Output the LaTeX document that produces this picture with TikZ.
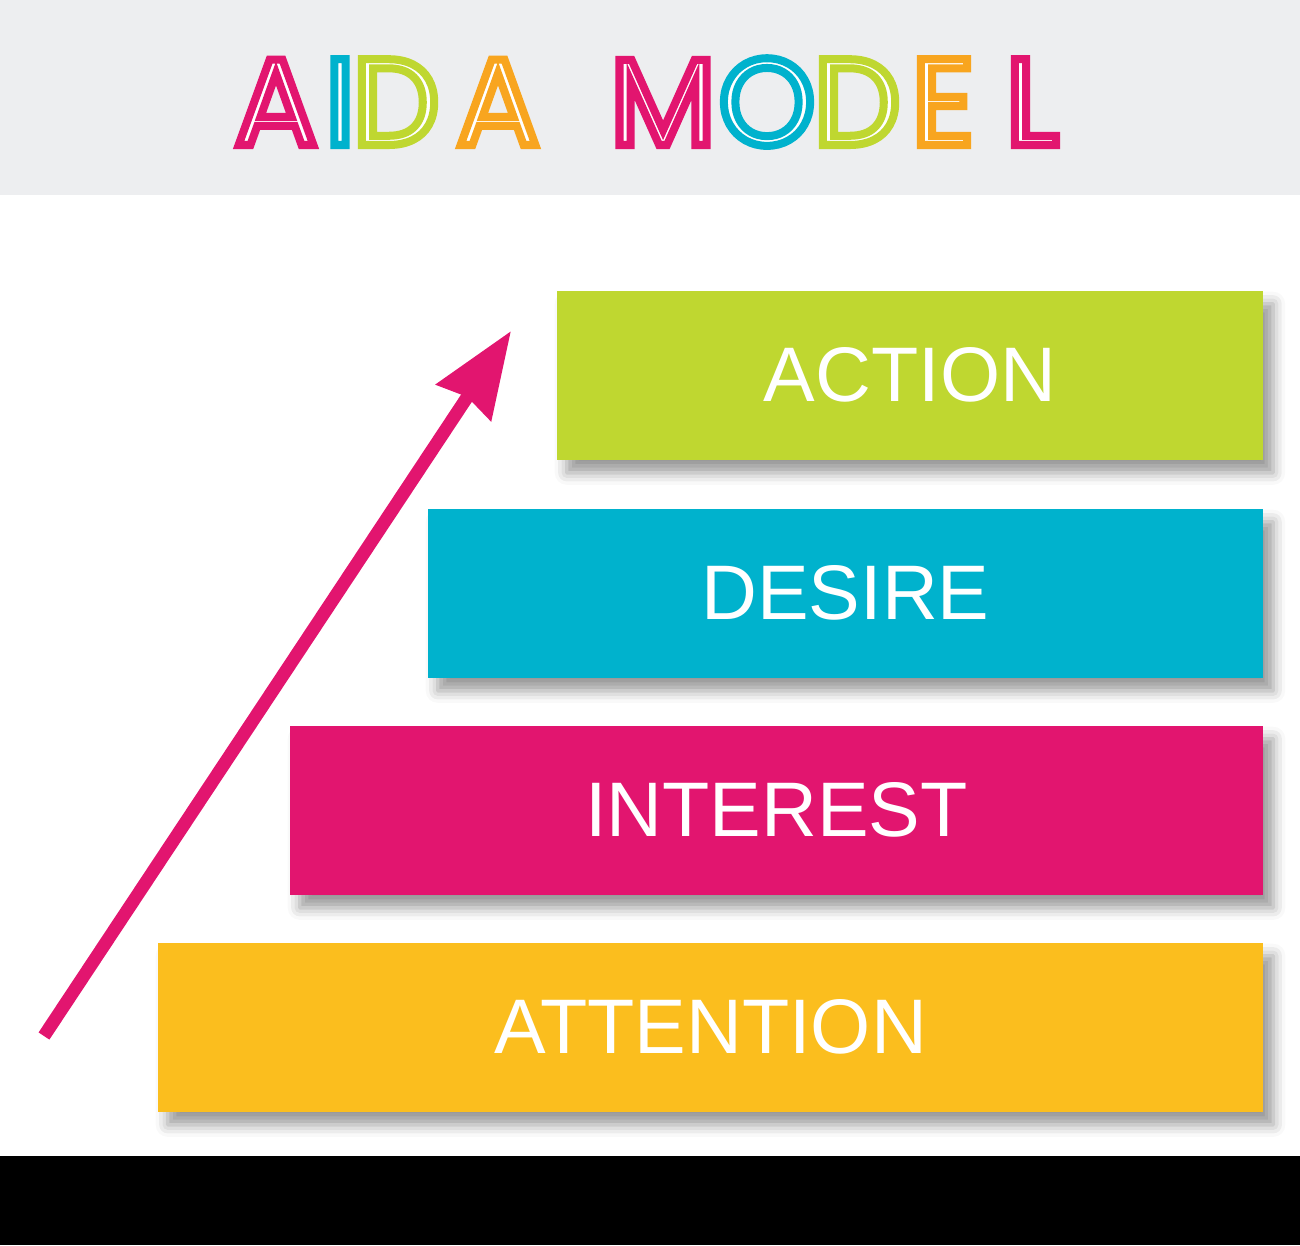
\documentclass[tikz,border=0pt]{standalone}
\usepackage{xcolor}
\usepackage{fontspec}
\usetikzlibrary{arrows.meta,shadows.blur}
\setmainfont{Liberation Sans}
\newfontfamily\ttlfont{Poppins}[FakeBold=6.5]
\definecolor{agreen}{HTML}{BFD730}
\definecolor{ablue}{HTML}{00B2CD}
\definecolor{apink}{HTML}{E2156F}
\definecolor{ayellow}{HTML}{FBBE1E}
\definecolor{aorange}{HTML}{F8A51F}
\definecolor{agray}{HTML}{EDEEF0}
\newcommand{\OL}[2]{\special{pdf:bcolor [1 1 1] [#1]}#2\special{pdf:ecolor}}
\tikzset{
    BX/.style ={rectangle, anchor=north west, minimum height=1.69cm, inner sep=0pt, text=white,
        font=\fontsize{22}{26}\selectfont,
        blur shadow={shadow xshift=.1cm, shadow yshift=-.13cm, shadow blur radius=.12cm, shadow opacity=40}},
    TL/.style ={anchor=base, inner sep=0pt, font=\ttlfont\fontsize{35}{40}\selectfont},
    AR/.style ={line width=.13cm, apink, -{Stealth[length=.85cm,width=.64cm,inset=.06cm]}}
}
\begin{document}
\begin{tikzpicture}[x=.01cm,y=-.01cm]
        \useasboundingbox (0,0) rectangle (1300,1245);
        \fill[agray] (0,0) rectangle (1300,195);
        \fill[black] (0,1156) rectangle (1300,1245);
        \node[TL] (t1) at (276,145){\OL{0.886 0.082 0.435}{A}};
        \node[TL] (t2) at (340,145){\OL{0 0.698 0.804}{I}};
        \node[TL] (t3) at (396,145){\OL{0.749 0.843 0.188}{D}};
        \node[TL] (t4) at (498,145){\OL{0.973 0.647 0.122}{A}};
        \node[TL] (t5) at (663,145){\OL{0.886 0.082 0.435}{M}};
        \node[TL] (t6) at (767,145){\OL{0 0.698 0.804}{O}};
        \node[TL] (t7) at (857,145){\OL{0.749 0.843 0.188}{D}};
        \node[TL] (t8) at (943,145){\OL{0.973 0.647 0.122}{E}};
        \node[TL] (t9) at (1032,145){\OL{0.886 0.082 0.435}{L}};
        \node[BX,fill=agreen,minimum width=7.06cm] (act) at (556,290){ACTION};
        \node[BX,fill=ablue,minimum width=8.35cm] (des) at (427,508){DESIRE};
        \node[BX,fill=apink,minimum width=9.73cm] (int) at (289,725){INTEREST};
        \node[BX,fill=ayellow,minimum width=11.05cm] (att) at (157,942){ATTENTION};
        \coordinate (tail) at (44,1036);
        \coordinate (tip) at (511,331);
        \draw[AR] (tail)--(tip);
    \end{tikzpicture}
\end{document}
